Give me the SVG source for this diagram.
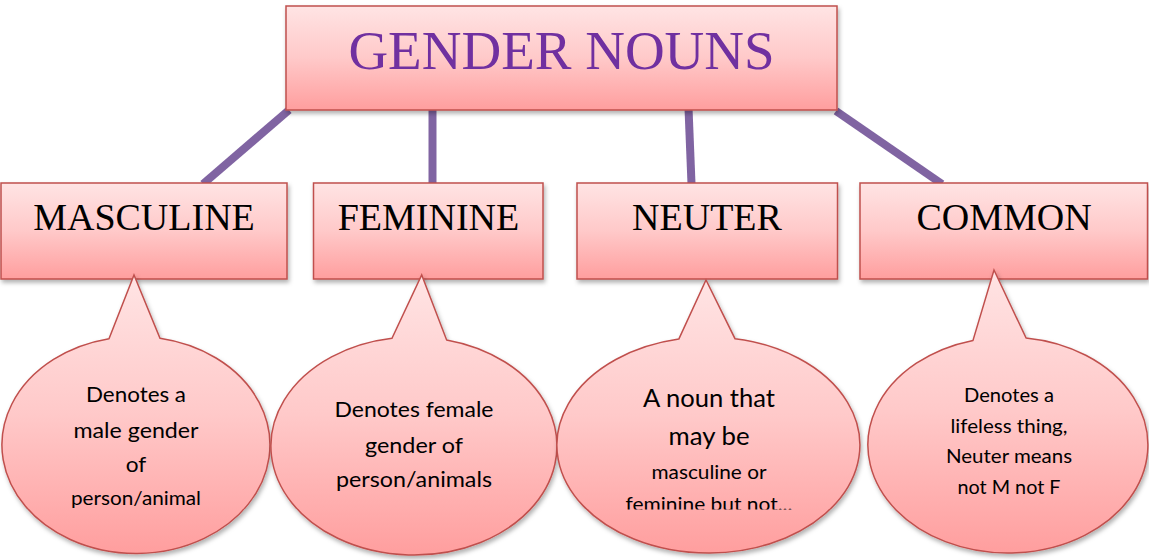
<svg xmlns="http://www.w3.org/2000/svg" width="1149" height="560" viewBox="0 0 1149 560">
  <defs>
    <linearGradient id="pinkGrad" x1="0" y1="0" x2="0" y2="1">
      <stop offset="0" stop-color="#FFE4E4"/>
      <stop offset="0.5" stop-color="#FFC9C9"/>
      <stop offset="1" stop-color="#FF9E9E"/>
    </linearGradient>
    <filter id="shadow" x="-10%" y="-10%" width="125%" height="130%">
      <feDropShadow dx="1.5" dy="3" stdDeviation="2" flood-color="#000" flood-opacity="0.3"/>
    </filter>
    <clipPath id="clipLast">
      <rect x="550" y="0" width="320" height="509.5"/>
    </clipPath>
  </defs>
  <style>
    .box { fill: url(#pinkGrad); stroke: #C0504D; stroke-width: 1.5; filter: url(#shadow); }
    .callout { fill: url(#pinkGrad); stroke: #C0504D; stroke-width: 1.5; filter: url(#shadow); }
    .conn { stroke: #8064A2; stroke-width: 8; fill: none; }
    .title { font-family: "Liberation Serif", "Times New Roman", serif; font-size: 55px; fill: #7030A0; text-anchor: middle; }
    .head { font-family: "Liberation Serif", "Times New Roman", serif; font-size: 38px; fill: #000; text-anchor: middle; }
    .body { font-family: Lato, "Open Sans", sans-serif; fill: #000; text-anchor: middle; }
  </style>
  <rect width="1149" height="560" fill="#FFFFFF"/>

  <g id="connectors">
    <line class="conn" x1="289" y1="110" x2="203" y2="184"/>
    <line class="conn" x1="432.5" y1="108" x2="432.5" y2="184"/>
    <line class="conn" x1="688.5" y1="108" x2="691.5" y2="184"/>
    <line class="conn" x1="836" y1="111" x2="942" y2="184"/>
  </g>

  <g id="gender-nouns">
    <rect class="box" x="286" y="6" width="551" height="104"/>
    <text class="title" x="561.5" y="69">GENDER NOUNS</text>
  </g>

  <g id="masculine">
    <rect class="box" x="1" y="183" width="286" height="96"/>
    <text class="head" x="144" y="230">MASCULINE</text>
  </g>
  <g id="feminine">
    <rect class="box" x="313.5" y="183" width="229.5" height="96"/>
    <text class="head" x="428.5" y="230">FEMININE</text>
  </g>
  <g id="neuter">
    <rect class="box" x="577" y="183" width="260.5" height="96"/>
    <text class="head" x="707" y="230">NEUTER</text>
  </g>
  <g id="common">
    <rect class="box" x="860" y="183" width="287.5" height="96"/>
    <text class="head" x="1004" y="230">COMMON</text>
  </g>

  <g id="callout-masculine">
    <path class="callout" d="M109,338.7 L134,275 L160,338.25 A134,108.5 0 1 1 109,338.7 Z"/>
    <text class="body" x="136" y="401.5" font-size="21" textLength="100" lengthAdjust="spacingAndGlyphs">Denotes a</text>
    <text class="body" x="136" y="438" font-size="21" textLength="125" lengthAdjust="spacingAndGlyphs">male gender</text>
    <text class="body" x="136" y="471.5" font-size="21" textLength="20.5" lengthAdjust="spacingAndGlyphs">of</text>
    <text class="body" x="136" y="505" font-size="19.5" textLength="130" lengthAdjust="spacingAndGlyphs">person/animal</text>
  </g>

  <g id="callout-feminine">
    <path class="callout" d="M392,338.3 L421.7,275 L446.6,339.9 A143,109 0 1 1 392,338.3 Z"/>
    <text class="body" x="414" y="417" font-size="22" textLength="159" lengthAdjust="spacingAndGlyphs">Denotes female</text>
    <text class="body" x="414" y="452.5" font-size="22" textLength="98" lengthAdjust="spacingAndGlyphs">gender of</text>
    <text class="body" x="414" y="487" font-size="22" textLength="156" lengthAdjust="spacingAndGlyphs">person/animals</text>
  </g>

  <g id="callout-neuter">
    <path class="callout" d="M678.8,339.1 L706,280 L735,338.7 A151.5,108 0 1 1 678.8,339.1 Z"/>
    <text class="body" x="709" y="406.5" font-size="24.5" textLength="132" lengthAdjust="spacingAndGlyphs">A noun that</text>
    <text class="body" x="709" y="445" font-size="24.5" textLength="81" lengthAdjust="spacingAndGlyphs">may be</text>
    <text class="body" x="709" y="479" font-size="19.5" textLength="115" lengthAdjust="spacingAndGlyphs">masculine or</text>
    <text class="body" x="709" y="511" font-size="19.5" textLength="167" lengthAdjust="spacingAndGlyphs" clip-path="url(#clipLast)">feminine but not...</text>
  </g>

  <g id="callout-common">
    <path class="callout" d="M973,340.4 L994,270 L1026,337.9 A140,108 0 1 1 973,340.4 Z"/>
    <text class="body" x="1009" y="401.5" font-size="19.5" textLength="90" lengthAdjust="spacingAndGlyphs">Denotes a</text>
    <text class="body" x="1009" y="432.5" font-size="19.5" textLength="117" lengthAdjust="spacingAndGlyphs">lifeless thing,</text>
    <text class="body" x="1009" y="463" font-size="19.5" textLength="126" lengthAdjust="spacingAndGlyphs">Neuter means</text>
    <text class="body" x="1009" y="494" font-size="19.5" textLength="103" lengthAdjust="spacingAndGlyphs">not M not F</text>
  </g>
</svg>
